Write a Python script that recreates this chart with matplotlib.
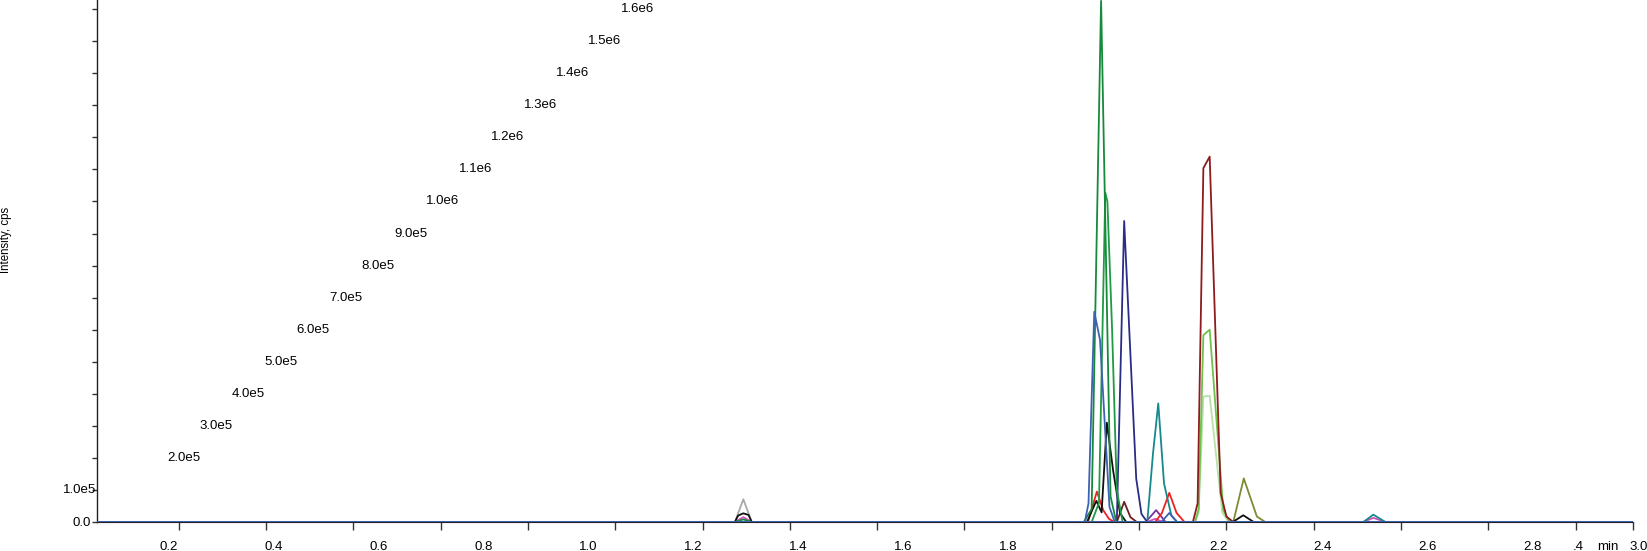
import numpy as np
import matplotlib.pyplot as plt
import matplotlib.transforms as mtransforms

plt.rcParams['font.family'] = ['Liberation Sans', 'DejaVu Sans']

# retention time (min) and intensity (cps) for each trace
t_green1 = [0.0, 1.279, 1.295, 1.311, 1.944, 1.959, 1.977, 1.995, 2.006, 3.0]
i_green1 = [0, 0, 8000, 0, 0, 40000, 1626000, 80000, 0, 0]

t_green2 = [0.0, 1.959, 1.973, 1.985, 1.989, 1.998, 2.007, 2.018, 3.0]
i_green2 = [0, 0, 60000, 1028000, 1000000, 600000, 100000, 0, 0]

t_navy = [0.0, 2.007, 2.021, 2.044, 2.054, 2.065, 3.0]
i_navy = [0, 0, 939000, 135000, 25000, 0, 0]

t_black = [0.0, 1.279, 1.285, 1.295, 1.305, 1.311, 1.950, 1.968, 1.978, 1.988,
           2.000, 2.013, 2.025, 2.228, 2.248, 2.268, 3.0]
i_black = [0, 0, 20000, 27000, 22000, 0, 0, 66000, 30000, 310000,
           160000, 28000, 0, 0, 21000, 0, 0]

t_red = [0.0, 1.952, 1.969, 1.981, 1.992, 2.002, 2.080, 2.093, 2.107, 2.121, 2.136, 3.0]
i_red = [0, 0, 95000, 37000, 10000, 0, 0, 28000, 91000, 28000, 0, 0]

t_teal = [0.0, 2.065, 2.076, 2.086, 2.097, 2.111, 2.122, 2.477, 2.496, 2.519, 3.0]
i_teal = [0, 0, 214000, 370000, 120000, 20000, 0, 0, 23000, 0, 0]

t_maroon_s = [0.0, 2.007, 2.021, 2.033, 2.045, 3.0]
i_maroon_s = [0, 0, 63000, 15000, 0, 0]

t_purple = [0.0, 2.062, 2.082, 2.100, 3.0]
i_purple = [0, 0, 37000, 0, 0]

t_pink = [0.0, 1.279, 1.295, 1.311, 2.065, 2.080, 2.095, 2.477, 2.496, 2.519, 3.0]
i_pink = [0, 0, 15000, 0, 0, 10000, 0, 0, 13000, 0, 0]

t_gray = [0.0, 1.279, 1.295, 1.311, 3.0]
i_gray = [0, 0, 71000, 0, 0]

t_maroon = [0.0, 2.152, 2.161, 2.172, 2.184, 2.205, 2.216, 2.229, 3.0]
i_maroon = [0, 0, 58000, 1104000, 1140000, 90000, 17000, 0, 0]

t_lgreen = [0.0, 2.156, 2.163, 2.172, 2.184, 2.210, 2.222, 3.0]
i_lgreen = [0, 0, 40000, 583000, 600000, 37000, 0, 0]

t_pgreen = [0.0, 2.156, 2.163, 2.172, 2.184, 2.208, 2.220, 3.0]
i_pgreen = [0, 0, 30000, 391000, 394000, 30000, 0, 0]

t_olive = [0.0, 2.229, 2.249, 2.274, 2.290, 3.0]
i_olive = [0, 0, 136000, 17000, 0, 0]

t_blue = [0.0, 1.946, 1.953, 1.964, 1.975, 1.993, 2.003, 2.092, 2.107, 2.122, 3.0]
i_blue = [0, 0, 58000, 656000, 568000, 47000, 0, 0, 28000, 0, 0]

traces = [
    (t_pgreen, i_pgreen, '#b8e0a8'),
    (t_gray, i_gray, '#a9a9a9'),
    (t_pink, i_pink, '#d050b8'),
    (t_purple, i_purple, '#7f2fa3'),
    (t_maroon_s, i_maroon_s, '#6e1c1c'),
    (t_olive, i_olive, '#7f8a35'),
    (t_red, i_red, '#ee2222'),
    (t_teal, i_teal, '#16898c'),
    (t_black, i_black, '#111111'),
    (t_navy, i_navy, '#2b2c86'),
    (t_lgreen, i_lgreen, '#6cc24a'),
    (t_maroon, i_maroon, '#8e1b1e'),
    (t_green2, i_green2, '#1f9a45'),
    (t_green1, i_green1, '#168a3a'),
]

y_tick_vals = np.arange(0, 17) * 1e5
x_label_vals = [0.2, 0.4, 0.6, 0.8, 1.0, 1.2, 1.4, 1.6, 1.8, 2.0, 2.2, 2.4, 2.6, 2.8]

W, H = 1647, 551
fig = plt.figure(figsize=(W / 100, H / 100), dpi=100)
ax = fig.add_axes([97 / W, 29 / H, 1536 / W, 522 / H])

for t, inten, c in traces:
    ax.plot(t, inten, color=c, lw=1.3, zorder=2)
ax.plot(t_blue, i_blue, color='#3c62b4', lw=1.3, zorder=3)
# thick blue baseline
ax.plot([t_blue[0], t_blue[-1]], [0, 0], color='#3c62b4', lw=2.0, zorder=4)

ax.set_xlim(0.0629, 2.991)
ax.set_ylim(0, 1628700)

for s in ['top', 'right']:
    ax.spines[s].set_visible(False)
ax.spines['left'].set_color('#222222')
ax.spines['bottom'].set_color('#222222')
ax.spines['left'].set_linewidth(1.0)

# odd tick spacing on the time axis
xt = list(0.2185 + np.arange(17) * 0.16645) + [2.991]
ax.set_xticks(xt)
ax.set_xticklabels([])
ax.tick_params(axis='x', direction='out', length=6, width=1.0, color='#333333')

ax.set_yticks(y_tick_vals)
ax.set_yticklabels(['0.0'] + [''] * 16)
ax.tick_params(axis='y', direction='out', length=3.5, width=1.0, color='#333333',
               pad=1, labelsize=9.5)

trans_y = mtransforms.blended_transform_factory(fig.transFigure, ax.transData)
ax.text(96 / W, 1e5, '1.0e5', transform=trans_y, ha='right', va='center',
        fontsize=9.5, clip_on=False)
for k in range(2, 17):
    v = k * 1e5
    lab = '%.1fe5' % k if k < 10 else '%.1fe6' % (k / 10)
    ax.text((183.8 + (k - 2) * 32.4) / W, v, lab, transform=trans_y,
            ha='center', va='center', fontsize=9.5, clip_on=False)

trans_x = mtransforms.blended_transform_factory(ax.transData, fig.transFigure)
for v in x_label_vals:
    ax.text(v, 4 / H, '%.1f' % v, transform=trans_x, ha='center', va='center',
            fontsize=9.5, clip_on=False)
fig.text(1578 / W, 4 / H, '.4', ha='center', va='center', fontsize=9.5)
fig.text(1608 / W, 4 / H, 'min', ha='center', va='center', fontsize=9.5)
fig.text(1639 / W, 4 / H, '3.0', ha='center', va='center', fontsize=9.5)

fig.text(6 / W, 0.565, 'Intensity, cps', rotation=90, ha='center', va='center',
         fontsize=8.3)

fig.savefig('out.png', dpi=100)
